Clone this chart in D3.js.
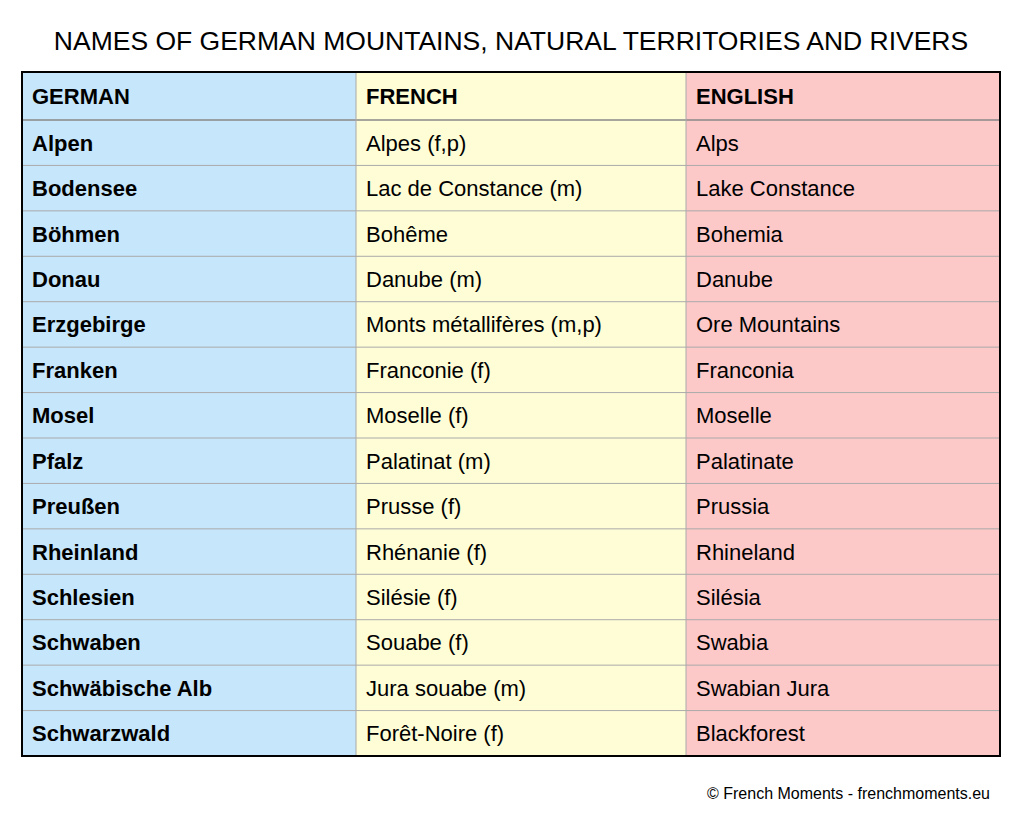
<!DOCTYPE html>
<html><head><meta charset="utf-8">
<script src="https://cdn.jsdelivr.net/npm/d3@7"></script>
<style>body{margin:0;background:#fff}</style></head>
<body><svg id="c" width="1024" height="834"></svg>
<script>
const headers = ["GERMAN","FRENCH","ENGLISH"];
const german = ["Alpen","Bodensee","Böhmen","Donau","Erzgebirge","Franken","Mosel","Pfalz","Preußen","Rheinland","Schlesien","Schwaben","Schwäbische Alb","Schwarzwald"];
const french = ["Alpes (f,p)","Lac de Constance (m)","Bohême","Danube (m)","Monts métallifères (m,p)","Franconie (f)","Moselle (f)","Palatinat (m)","Prusse (f)","Rhénanie (f)","Silésie (f)","Souabe (f)","Jura souabe (m)","Forêt-Noire (f)"];
const english = ["Alps","Lake Constance","Bohemia","Danube","Ore Mountains","Franconia","Moselle","Palatinate","Prussia","Rhineland","Silésia","Swabia","Swabian Jura","Blackforest"];
const colors = ["#c6e6fb","#fefdd6","#fdc8c8"];

const svg = d3.select("#c");
const font = "'Liberation Sans', Arial, sans-serif";
svg.append("text").attr("x",511).attr("y",50).attr("text-anchor","middle")
  .attr("font-family",font).attr("font-size",26.5).text("NAMES OF GERMAN MOUNTAINS, NATURAL TERRITORIES AND RIVERS");

const colEdges = [22,356,686,1000];
const tTop = 72, headH = 48, tBottom = 756;
const y = d3.scaleBand().domain(d3.range(german.length)).range([tTop+headH,tBottom]);
const cols = [german,french,english];

cols.forEach((c,i)=>{
  svg.append("rect").attr("x",colEdges[i]).attr("y",tTop).attr("width",colEdges[i+1]-colEdges[i]).attr("height",tBottom-tTop).attr("fill",colors[i]);
  svg.append("text").attr("x",colEdges[i]+10).attr("y",tTop+headH/2+8).attr("font-family",font).attr("font-weight","bold").attr("font-size",22).text(headers[i]);
  svg.selectAll(null).data(c).enter().append("text")
    .attr("x",colEdges[i]+10).attr("y",(d,j)=>y(j)+y.bandwidth()/2+8)
    .attr("font-family",font).attr("font-size",22).attr("font-weight",i===0?"bold":"normal").text(d=>d);
});
svg.selectAll(null).data(d3.range(1,german.length)).enter().append("line")
  .attr("x1",22).attr("x2",1000).attr("y1",d=>y(d)).attr("y2",d=>y(d)).attr("stroke","#aaa").attr("stroke-width",1);
svg.append("line").attr("x1",22).attr("x2",1000).attr("y1",tTop+headH).attr("y2",tTop+headH).attr("stroke","#888").attr("stroke-width",1.5);
[356,686].forEach(x=>svg.append("line").attr("x1",x).attr("x2",x).attr("y1",tTop).attr("y2",tBottom).attr("stroke","#aaa").attr("stroke-width",1));
svg.append("rect").attr("x",22).attr("y",tTop).attr("width",978).attr("height",tBottom-tTop).attr("fill","none").attr("stroke","#000").attr("stroke-width",2);

svg.append("text").attr("x",990).attr("y",799).attr("text-anchor","end").attr("font-family",font).attr("font-size",16).text("© French Moments - frenchmoments.eu");
</script></body></html>
